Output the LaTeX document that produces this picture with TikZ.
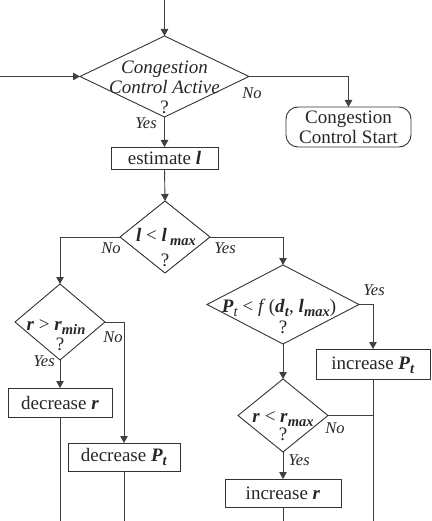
\documentclass[tikz,border=0pt]{standalone}
\usepackage{fontspec}
\setmainfont{Liberation Serif}
\usetikzlibrary{shapes.geometric,arrows.meta}
\newcommand\bi[1]{\textbf{\textit{#1}}}
\newcommand\lsub[1]{\raisebox{-0.45ex}{\fontsize{14.5}{14.5}\selectfont #1}}
\begin{document}
\begin{tikzpicture}[x=1pt,y=-1pt,
  line/.style={draw=black!75, line width=0.9pt},
  arr/.style={line, -{Triangle[length=7pt,width=7.5pt]}},
  dia/.style={diamond, draw=black!80, line width=0.9pt, inner sep=0pt, outer sep=0pt},
  box/.style={rectangle, draw=black!80, line width=0.9pt, inner sep=0pt, outer sep=0pt},
  txt/.style={font=\fontsize{19}{20}\selectfont, inner sep=0pt, text=black!85, align=center},
  lab/.style={font=\fontsize{16.5}{18}\selectfont\itshape, inner sep=0pt, text=black!85}]
\useasboundingbox (0,0) rectangle (431,521);

% shapes
\node[dia, minimum width=169pt, minimum height=81pt] (d1) at (164.5,76.5) {};
\node[box, rounded corners=12pt, minimum width=125pt, minimum height=40pt] (start) at (348.5,127) {};
\node[box, minimum width=107pt, minimum height=22pt] (est) at (164.5,158) {};
\node[dia, minimum width=90pt, minimum height=72pt] (d2) at (165,237) {};
\node[dia, minimum width=90pt, minimum height=76pt] (d3) at (60,322) {};
\node[dia, minimum width=152pt, minimum height=79pt] (d4) at (283,304.5) {};
\node[box, minimum width=104pt, minimum height=29pt] (dr) at (60,402.5) {};
\node[box, minimum width=112pt, minimum height=28pt] (dP) at (124,457) {};
\node[box, minimum width=114pt, minimum height=30pt] (iP) at (373,364) {};
\node[dia, minimum width=90pt, minimum height=73pt] (d5) at (283,415.5) {};
\node[box, minimum width=116pt, minimum height=28pt] (ir) at (283,493) {};

% texts
\node[txt, font=\fontsize{19}{20}\selectfont\itshape] (d1t) at (164.5,87.5) {Congestion\\Control Active\\\upshape ?};
\node[txt] (startt) at (348.5,127) {Congestion\\Control Start};
\node[txt] (estt) at (164.5,158) {estimate \bi{l}};
\node[txt] (d2t) at (166,237) {\bi{l} < \bi{l}\,\lsub{\bi{max}}};
\node[txt] (d2q) at (165,260) {?};
\node[txt] (d3t) at (56,327) {\bi{r} > \bi{r}\lsub{\bi{min}}};
\node[txt] (d3q) at (60,344) {?};
\node[txt] (d4t) at (279,308) {\bi{P}\lsub{\textit{t}} < \textit{f}\,(\bi{d}\lsub{\bi{t}}, \bi{l}\lsub{\bi{max}})};
\node[txt] (d4q) at (283,327) {?};
\node[txt] (d5t) at (283,419) {\bi{r} < \bi{r}\lsub{\bi{max}}};
\node[txt] (d5q) at (283,434) {?};
\node[txt] (drt) at (60,403) {decrease \bi{r}};
\node[txt] (dPt) at (124,457) {decrease \bi{P}\lsub{\bi{t}}};
\node[txt] (iPt) at (373,365) {increase \bi{P}\lsub{\bi{t}}};
\node[txt] (irt) at (283,493) {increase \bi{r}};

% labels
\node[lab] (l1no) at (252,93) {No};
\node[lab] (l1yes) at (146,123) {Yes};
\node[lab] (l2no) at (111,248) {No};
\node[lab] (l2yes) at (225,248) {Yes};
\node[lab] (l3no) at (113,337) {No};
\node[lab] (l3yes) at (44,361) {Yes};
\node[lab] (l4yes) at (374,290) {Yes};
\node[lab] (l5no) at (335,428) {No};
\node[lab] (l5yes) at (299,460) {Yes};

% free ends
\coordinate (top) at (164.5,0);
\coordinate (lin) at (0,76.5);
\coordinate (b1) at (60,521);
\coordinate (b2) at (124,521);
\coordinate (b3) at (283,521);
\coordinate (b4) at (373,521);
\coordinate (j5) at (373,415.5);

% connectors
\draw[arr] (top) -- (d1.north);
\draw[arr] (lin) -- (d1.west);
\draw[arr] (d1.east) -| (start.north);
\draw[arr] (d1.south) -- (est.north);
\draw[arr] (est.south) -- (d2.north);
\draw[arr] (d2.west) -| (d3.north);
\draw[arr] (d2.east) -| (d4.north);
\draw[arr] (d3.south) -- (dr.north);
\draw[arr] (d3.east) -| (dP.north);
\draw[arr] (d4.east) -| (iP.north);
\draw[arr] (d4.south) -- (d5.north);
\draw[line] (d5.east) -- (j5);
\draw[arr] (d5.south) -- (ir.north);
\draw[line] (dr.south) -- (b1);
\draw[line] (dP.south) -- (b2);
\draw[line] (ir.south) -- (b3);
\draw[line] (iP.south) -- (b4);
\end{tikzpicture}
\end{document}
